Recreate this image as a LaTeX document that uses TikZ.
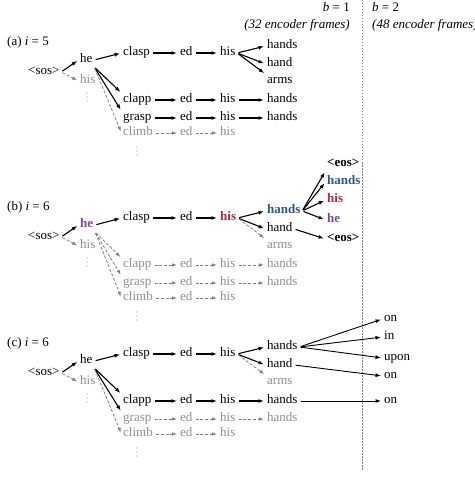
\documentclass[tikz,border=0pt]{standalone}
\usepackage{fontspec}
\setmainfont{Liberation Serif}
\usetikzlibrary{arrows.meta}
\definecolor{gtext}{HTML}{8E8E8E}
\definecolor{garr}{HTML}{7F7F7F}
\definecolor{cpur}{HTML}{7B4A92}
\definecolor{cred}{HTML}{B3293D}
\definecolor{cblu}{HTML}{2D5886}
\newcommand{\fsz}{\fontsize{13}{15}\selectfont}
\tikzset{
 w/.style={anchor=west, inner sep=1.5pt, text height=8pt, text depth=2.5pt, font=\fsz},
 g/.style={w, text=gtext},
 bw/.style={w, font=\fsz\bfseries},
 lab/.style={inner sep=0pt, font=\fsz},
 ar/.style={-{Latex[length=5.5pt,width=4pt]}, line width=1.1pt, shorten <=1.5pt, shorten >=1.5pt},
 ga/.style={-{Latex[length=5pt,width=3.5pt]}, line width=0.8pt, garr, dash pattern=on 3pt off 1.8pt, shorten <=1.5pt, shorten >=1.5pt},
 vdd/.pic={\fill[gtext] (0,-4) circle (0.65pt) (0,0) circle (0.65pt) (0,4) circle (0.65pt);}
}
\begin{document}
\begin{tikzpicture}[x=1pt,y=-1pt]
\useasboundingbox (0,0) rectangle (474,478);
% header
\node[lab, anchor=east] (hb1) at (350,7) {\textit{b} = 1};
\node[lab, anchor=east] (hf1) at (350,25) {\textit{(32 encoder frames)}};
\node[lab, anchor=west] (hb2) at (372,7) {\textit{b} = 2};
\node[lab, anchor=west] (hf2) at (372,25) {\textit{(48 encoder frames)}};
\coordinate (lt) at (362,0);
\coordinate (lb) at (362,470);
\draw[garr, line width=0.7pt, dash pattern=on 1.5pt off 1.5pt] (lt) -- (lb);

% ---------------- panel (a)
\node[lab, anchor=west] (alab) at (7,42) {(a)~\textit{i} = 5};
\node[w] (a0) at (26.5,72) {<sos>};
\node[w] (a1) at (78.5,60) {he};
\node[g] (a2) at (78.5,81) {his};
\pic at (87,97) {vdd};
\node[w] (a4) at (121.5,53) {clasp};
\node[w] (a5) at (178.5,53) {ed};
\node[w] (a6) at (218.5,53) {his};
\node[w] (a7) at (265.5,46) {hands};
\node[w] (a8) at (265.5,64) {hand};
\node[w] (a9) at (265.5,81) {arms};
\node[w] (a10) at (121.5,100) {clapp};
\node[w] (a11) at (178.5,100) {ed};
\node[w] (a12) at (218.5,100) {his};
\node[w] (a13) at (265.5,100) {hands};
\node[w] (a14) at (121.5,118) {grasp};
\node[w] (a15) at (178.5,118) {ed};
\node[w] (a16) at (218.5,118) {his};
\node[w] (a17) at (265.5,118) {hands};
\node[g] (a18) at (121.5,133) {climb};
\node[g] (a19) at (178.5,133) {ed};
\node[g] (a20) at (218.5,133) {his};
\pic at (137,151) {vdd};
\draw[ar] (a0.east) -- (a1.west);
\draw[ga] (a0.east) -- (a2.west);
\draw[ar] (a1.east) -- (a4.west);
\draw[ar] (a1.south east) -- (a10.north west);
\draw[ar] (a1.south east) -- (a14.north west);
\draw[ga] (a1.south east) -- (a18.west);
\draw[ar] (a4) -- (a5);
\draw[ar] (a5) -- (a6);
\draw[ar] (a6.east) -- (a7.west);
\draw[ar] (a6.east) -- (a8.west);
\draw[ar] (a6.east) -- (a9.north west);
\draw[ar] (a10) -- (a11);
\draw[ar] (a11) -- (a12);
\draw[ar] (a12) -- (a13);
\draw[ar] (a14) -- (a15);
\draw[ar] (a15) -- (a16);
\draw[ar] (a16) -- (a17);
\draw[ga] (a18) -- (a19);
\draw[ga] (a19) -- (a20);

% ---------------- panel (b)
\begin{scope}[shift={(0,165)}]
\node[lab, anchor=west] (blab) at (7,42) {(b)~\textit{i} = 6};
\node[w] (b0) at (26.5,72) {<sos>};
\node[bw, text=cpur] (b1) at (78.5,60) {he};
\node[g] (b2) at (78.5,81) {his};
\pic at (87,97) {vdd};
\node[w] (b4) at (121.5,53) {clasp};
\node[w] (b5) at (178.5,53) {ed};
\node[bw, text=cred] (b6) at (218.5,53) {his};
\node[bw, text=cblu] (b7) at (265.5,46) {hands};
\node[w] (b8) at (265.5,64) {hand};
\node[g] (b9) at (265.5,81) {arms};
\node[g] (b10) at (121.5,100) {clapp};
\node[g] (b11) at (178.5,100) {ed};
\node[g] (b12) at (218.5,100) {his};
\node[g] (b13) at (265.5,100) {hands};
\node[g] (b14) at (121.5,118) {grasp};
\node[g] (b15) at (178.5,118) {ed};
\node[g] (b16) at (218.5,118) {his};
\node[g] (b17) at (265.5,118) {hands};
\node[g] (b18) at (121.5,133) {climb};
\node[g] (b19) at (178.5,133) {ed};
\node[g] (b20) at (218.5,133) {his};
\pic at (137,151) {vdd};
\node[bw] (b22) at (325.5,-1) {<eos>};
\node[bw, text=cblu] (b23) at (325.5,17) {hands};
\node[bw, text=cred] (b24) at (325.5,35) {his};
\node[bw, text=cpur] (b25) at (325.5,55) {he};
\node[bw] (b26) at (325.5,74) {<eos>};
\draw[ar] (b0.east) -- (b1.west);
\draw[ga] (b0.east) -- (b2.west);
\draw[ar] (b1.east) -- (b4.west);
\draw[ga] (b1.south east) -- (b10.north west);
\draw[ga] (b1.south east) -- (b14.north west);
\draw[ga] (b1.south east) -- (b18.west);
\draw[ar] (b4) -- (b5);
\draw[ar] (b5) -- (b6);
\draw[ar] (b6.east) -- (b7.west);
\draw[ar] (b6.east) -- (b8.west);
\draw[ga] (b6.east) -- (b9.north west);
\draw[ga] (b10) -- (b11);
\draw[ga] (b11) -- (b12);
\draw[ga] (b12) -- (b13);
\draw[ga] (b14) -- (b15);
\draw[ga] (b15) -- (b16);
\draw[ga] (b16) -- (b17);
\draw[ga] (b18) -- (b19);
\draw[ga] (b19) -- (b20);
\draw[ar] (b7.east) -- (b22.south west);
\draw[ar] (b7.east) -- (b23.west);
\draw[ar] (b7.east) -- (b24.west);
\draw[ar] (b7.east) -- (b25.west);
\draw[ar] (b8.east) -- (b26.west);
\end{scope}

% ---------------- panel (c)
\begin{scope}[shift={(0,301)}]
\node[lab, anchor=west] (clab) at (7,42) {(c)~\textit{i} = 6};
\node[w] (c0) at (26.5,72) {<sos>};
\node[w] (c1) at (78.5,60) {he};
\node[g] (c2) at (78.5,81) {his};
\pic at (87,97) {vdd};
\node[w] (c4) at (121.5,53) {clasp};
\node[w] (c5) at (178.5,53) {ed};
\node[w] (c6) at (218.5,53) {his};
\node[w] (c7) at (265.5,46) {hands};
\node[w] (c8) at (265.5,64) {hand};
\node[g] (c9) at (265.5,81) {arms};
\node[w] (c10) at (121.5,100) {clapp};
\node[w] (c11) at (178.5,100) {ed};
\node[w] (c12) at (218.5,100) {his};
\node[w] (c13) at (265.5,100) {hands};
\node[g] (c14) at (121.5,118) {grasp};
\node[g] (c15) at (178.5,118) {ed};
\node[g] (c16) at (218.5,118) {his};
\node[g] (c17) at (265.5,118) {hands};
\node[g] (c18) at (121.5,133) {climb};
\node[g] (c19) at (178.5,133) {ed};
\node[g] (c20) at (218.5,133) {his};
\pic at (137,151) {vdd};
\node[w] (c22) at (382.5,18) {on};
\node[w] (c23) at (382.5,36) {in};
\node[w] (c24) at (382.5,57) {upon};
\node[w] (c25) at (382.5,75) {on};
\node[w] (c26) at (382.5,100) {on};
\draw[ar] (c0.east) -- (c1.west);
\draw[ga] (c0.east) -- (c2.west);
\draw[ar] (c1.east) -- (c4.west);
\draw[ar] (c1.south east) -- (c10.north west);
\draw[ar] (c1.south east) -- (c14.north west);
\draw[ga] (c1.south east) -- (c18.west);
\draw[ar] (c4) -- (c5);
\draw[ar] (c5) -- (c6);
\draw[ar] (c6.east) -- (c7.west);
\draw[ar] (c6.east) -- (c8.west);
\draw[ga] (c6.east) -- (c9.north west);
\draw[ar] (c10) -- (c11);
\draw[ar] (c11) -- (c12);
\draw[ar] (c12) -- (c13);
\draw[ga] (c14) -- (c15);
\draw[ga] (c15) -- (c16);
\draw[ga] (c16) -- (c17);
\draw[ga] (c18) -- (c19);
\draw[ga] (c19) -- (c20);
\draw[ar, line width=0.9pt] (c7.east) -- (c22.west);
\draw[ar, line width=0.9pt] (c7.east) -- (c23.west);
\draw[ar, line width=0.9pt] (c7.east) -- (c24.west);
\draw[ar, line width=0.9pt] (c8.east) -- (c25.west);
\draw[ar, line width=0.9pt] (c13.east) -- (c26.west);
\end{scope}
\end{tikzpicture}
\end{document}
